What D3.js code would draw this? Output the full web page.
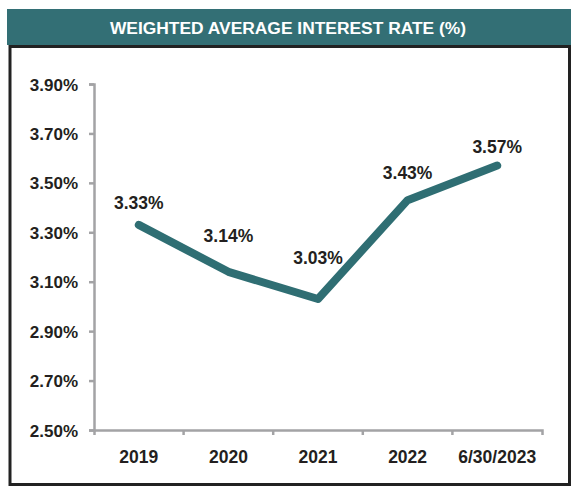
<!DOCTYPE html>
<html>
<head>
<meta charset="utf-8">
<script src="https://cdn.jsdelivr.net/npm/d3@7"></script>
<style>
  html, body { margin: 0; padding: 0; background: #fff; }
  svg { display: block; font-family: Arial, "Liberation Sans", sans-serif; }
</style>
</head>
<body>
<svg id="chart" width="582" height="494"></svg>
<script>
const title = "WEIGHTED AVERAGE INTEREST RATE (%)";
const categories = ["2019", "2020", "2021", "2022", "6/30/2023"];
const rates = [3.33, 3.14, 3.03, 3.43, 3.57];
const yTicks = [2.5, 2.7, 2.9, 3.1, 3.3, 3.5, 3.7, 3.9];
const labelLift = [22, 36, 41, 27, 19];

const svg = d3.select("#chart");
const teal = "#336f75";
const lineColor = "#2f6e73";
const axisColor = "#a3a3a5";
const textColor = "#231f20";

// header
svg.append("rect").attr("x", 7).attr("y", 9).attr("width", 564).attr("height", 36).attr("fill", teal);
svg.append("text").attr("x", 288).attr("y", 34).attr("text-anchor", "middle")
  .attr("fill", "#fff").attr("font-size", 17.4).attr("font-weight", "bold").text(title);

// frame
svg.append("rect").attr("x", 10).attr("y", 46.5).attr("width", 559.5).attr("height", 438)
  .attr("fill", "none").attr("stroke", "#222").attr("stroke-width", 3);

const x = d3.scaleBand().domain(categories).range([94, 542]).paddingInner(0).paddingOuter(0);
const y = d3.scaleLinear().domain([2.5, 3.9]).range([430, 84]);

// y axis
const yAxis = svg.append("g").attr("transform", "translate(94,0)")
  .call(d3.axisLeft(y).tickValues(yTicks).tickFormat(d => d3.format(".2f")(d) + "%")
    .tickSize(5).tickSizeOuter(5).tickPadding(11));
yAxis.selectAll("path, line").attr("stroke", axisColor).attr("stroke-width", 2.5);
yAxis.selectAll("text").attr("font-size", 17).attr("font-weight", "bold")
  .attr("fill", textColor).attr("font-family", "Arial, 'Liberation Sans', sans-serif").attr("dy", "0.36em");

// x axis
const xAxis = svg.append("g").attr("transform", "translate(0,430)")
  .call(d3.axisBottom(x).tickSize(0).tickSizeOuter(5).tickPadding(21));
xAxis.select(".domain").attr("stroke", axisColor).attr("stroke-width", 2.5);
xAxis.selectAll("text").attr("font-size", 17.5).attr("font-weight", "bold")
  .attr("fill", textColor).attr("font-family", "Arial, 'Liberation Sans', sans-serif");
// boundary ticks
xAxis.selectAll(".bound").data(categories.slice(1)).enter().append("line")
  .attr("class", "bound")
  .attr("x1", d => x(d)).attr("x2", d => x(d))
  .attr("y1", 0).attr("y2", 5)
  .attr("stroke", axisColor).attr("stroke-width", 2.5);

// line
const pts = categories.map((c, i) => [x(c) + x.bandwidth() / 2, y(rates[i])]);
svg.append("path").datum(pts)
  .attr("d", d3.line())
  .attr("fill", "none").attr("stroke", lineColor).attr("stroke-width", 8)
  .attr("stroke-linecap", "round").attr("stroke-linejoin", "round");

// labels
svg.selectAll(".lbl").data(categories).enter().append("text")
  .attr("class", "lbl")
  .attr("x", (c) => x(c) + x.bandwidth() / 2)
  .attr("y", (c, i) => y(rates[i]) - labelLift[i] + 6)
  .attr("text-anchor", "middle").attr("font-size", 17.5).attr("font-weight", "bold")
  .attr("fill", textColor)
  .text((c, i) => d3.format(".2f")(rates[i]) + "%");
</script>
</body>
</html>
